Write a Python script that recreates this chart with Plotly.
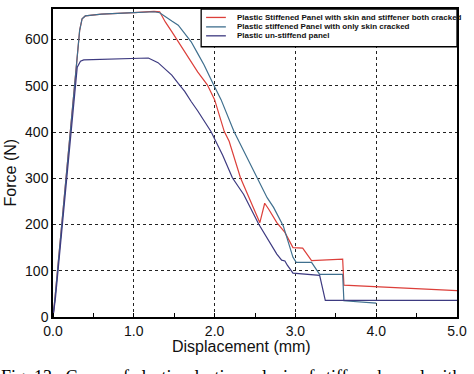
import plotly.graph_objects as go

# ---------------- data ----------------
series_names = [
    "Plastic Stiffened Panel with skin and stiffener both cracked",
    "Plastic stiffened Panel with only skin cracked",
    "Plastic un-stiffend panel",
]
series_colors = ["#dc3f3a", "#3f6f8e", "#3d3a80"]

both_x = [0, 0.025, 0.33, 0.36, 0.40, 0.6, 1.0, 1.25, 1.32, 1.39, 1.47, 1.55, 1.63,
          1.71, 1.79, 1.91, 2.00, 2.12, 2.18, 2.32, 2.44, 2.56, 2.62, 2.67, 2.77,
          2.87, 2.97, 3.09, 3.20, 3.40, 3.585, 3.60, 4.0, 4.5, 5.0]
both_y = [0, 42, 620, 645, 651, 655, 658, 661, 660, 638, 617, 595, 574,
          552, 530, 502, 470, 401, 380, 301, 251, 204, 246, 233, 204,
          183, 150, 149, 122, 124, 125, 69, 66, 62, 57]

skin_x = [0, 0.025, 0.33, 0.36, 0.40, 0.6, 1.0, 1.25, 1.32, 1.39, 1.47, 1.55, 1.63,
          1.71, 1.79, 1.87, 1.98, 2.08, 2.24, 2.30, 2.38, 2.52, 2.65, 2.73, 2.85,
          2.97, 3.01, 3.20, 3.30, 3.45, 3.585, 3.60, 3.80, 4.0]
skin_y = [0, 42, 620, 645, 651, 655, 658, 660, 658, 649, 640, 631, 613,
          595, 570, 545, 505, 470, 401, 380, 350, 301, 258, 237, 197,
          129, 118, 118, 92, 92, 92, 35, 33, 30]

unstf_x = [0, 0.03, 0.30, 0.34, 0.38, 0.6, 1.0, 1.18, 1.30, 1.39, 1.47, 1.55, 1.63,
           1.71, 1.79, 1.955, 2.10, 2.22, 2.36, 2.545, 2.77, 2.83, 2.87, 2.90,
           2.97, 3.30, 3.33, 3.37, 4.0, 5.0]
unstf_y = [0, 40, 540, 553, 556, 557, 559, 560, 550, 536, 523, 505, 488,
           466, 446, 401, 350, 301, 265, 201, 136, 123, 121, 112,
           95, 90, 65, 36, 36, 36]

x_ticks = [0.0, 1.0, 2.0, 3.0, 4.0, 5.0]
x_tick_labels = ["0.0", "1.0", "2.0", "3.0", "4.0", "5.0"]
y_ticks = [0, 100, 200, 300, 400, 500, 600]

x_title = "Displacement (mm)"
y_title = "Force (N)"
caption = "Fig. 13   Curve of elastic-plastic analysis of stiffened panel with"

# ---------------- figure ----------------
fig = go.Figure()
for xs, ys, name, col in zip([both_x, skin_x, unstf_x], [both_y, skin_y, unstf_y],
                             series_names, series_colors):
    fig.add_trace(go.Scatter(x=xs, y=ys, mode="lines", name=name,
                             line=dict(color=col, width=1.2), showlegend=False))

W, H = 474, 374
L, R, T, B = 53, 12, 7, 57
pw, ph = W - L - R, H - T - B


def px(xp):
    return (xp - L) / pw


def py(yp):
    return (H - B - yp) / ph


axis_common = dict(showline=True, mirror=True, linecolor="black", linewidth=1.5,
                   showgrid=True, gridcolor="#222", griddash="dot", gridwidth=1.3,
                   zeroline=False, ticks="", tickfont=dict(family="Liberation Sans", size=14, color="#111"))

fig.update_xaxes(range=[0, 5], tickvals=x_ticks, ticktext=x_tick_labels,
                 minor=dict(dtick=0.5, ticks="inside", ticklen=4, tickcolor="black", showgrid=False),
                 **axis_common)
fig.update_yaxes(range=[0, 666], tickvals=y_ticks, **axis_common)

annotations = [
    dict(text=x_title, xref="paper", yref="paper", x=px(244), y=py(347), showarrow=False,
         xanchor="center", yanchor="middle", font=dict(family="Liberation Sans", size=16, color="#111")),
    dict(text=y_title, xref="paper", yref="paper", x=px(10), y=py(172), showarrow=False,
         textangle=-90, xanchor="center", yanchor="middle",
         font=dict(family="Liberation Sans", size=16, color="#111")),
    dict(text=caption, xref="paper", yref="paper", x=px(-2), y=py(365), showarrow=False,
         xanchor="left", yanchor="top", font=dict(family="Liberation Serif", size=18, color="black")),
]

shapes = [
    dict(type="rect", xref="paper", yref="paper", x0=px(203), x1=1.0, y0=py(45), y1=1.0,
         line=dict(color="black", width=1.3), fillcolor="white", layer="above"),
]
entry_y = [15.5, 25, 34]
for name, col, ey in zip(series_names, series_colors, entry_y):
    shapes.append(dict(type="line", xref="paper", yref="paper", x0=px(208), x1=px(228),
                       y0=py(ey), y1=py(ey), line=dict(color=col, width=1.3), layer="above"))
    annotations.append(dict(text="<b>" + name + "</b>", xref="paper", yref="paper",
                            x=px(237), y=py(ey), xanchor="left", yanchor="middle", showarrow=False,
                            font=dict(family="Liberation Sans", size=8, color="#111")))

fig.update_layout(width=W, height=H, margin=dict(l=L, r=R, t=T, b=B),
                  paper_bgcolor="white", plot_bgcolor="white",
                  shapes=shapes, annotations=annotations, showlegend=False)

fig.write_html("out.html", config={"displayModeBar": False},
               post_script="document.body.style.margin='0';document.body.style.overflow='hidden';")
